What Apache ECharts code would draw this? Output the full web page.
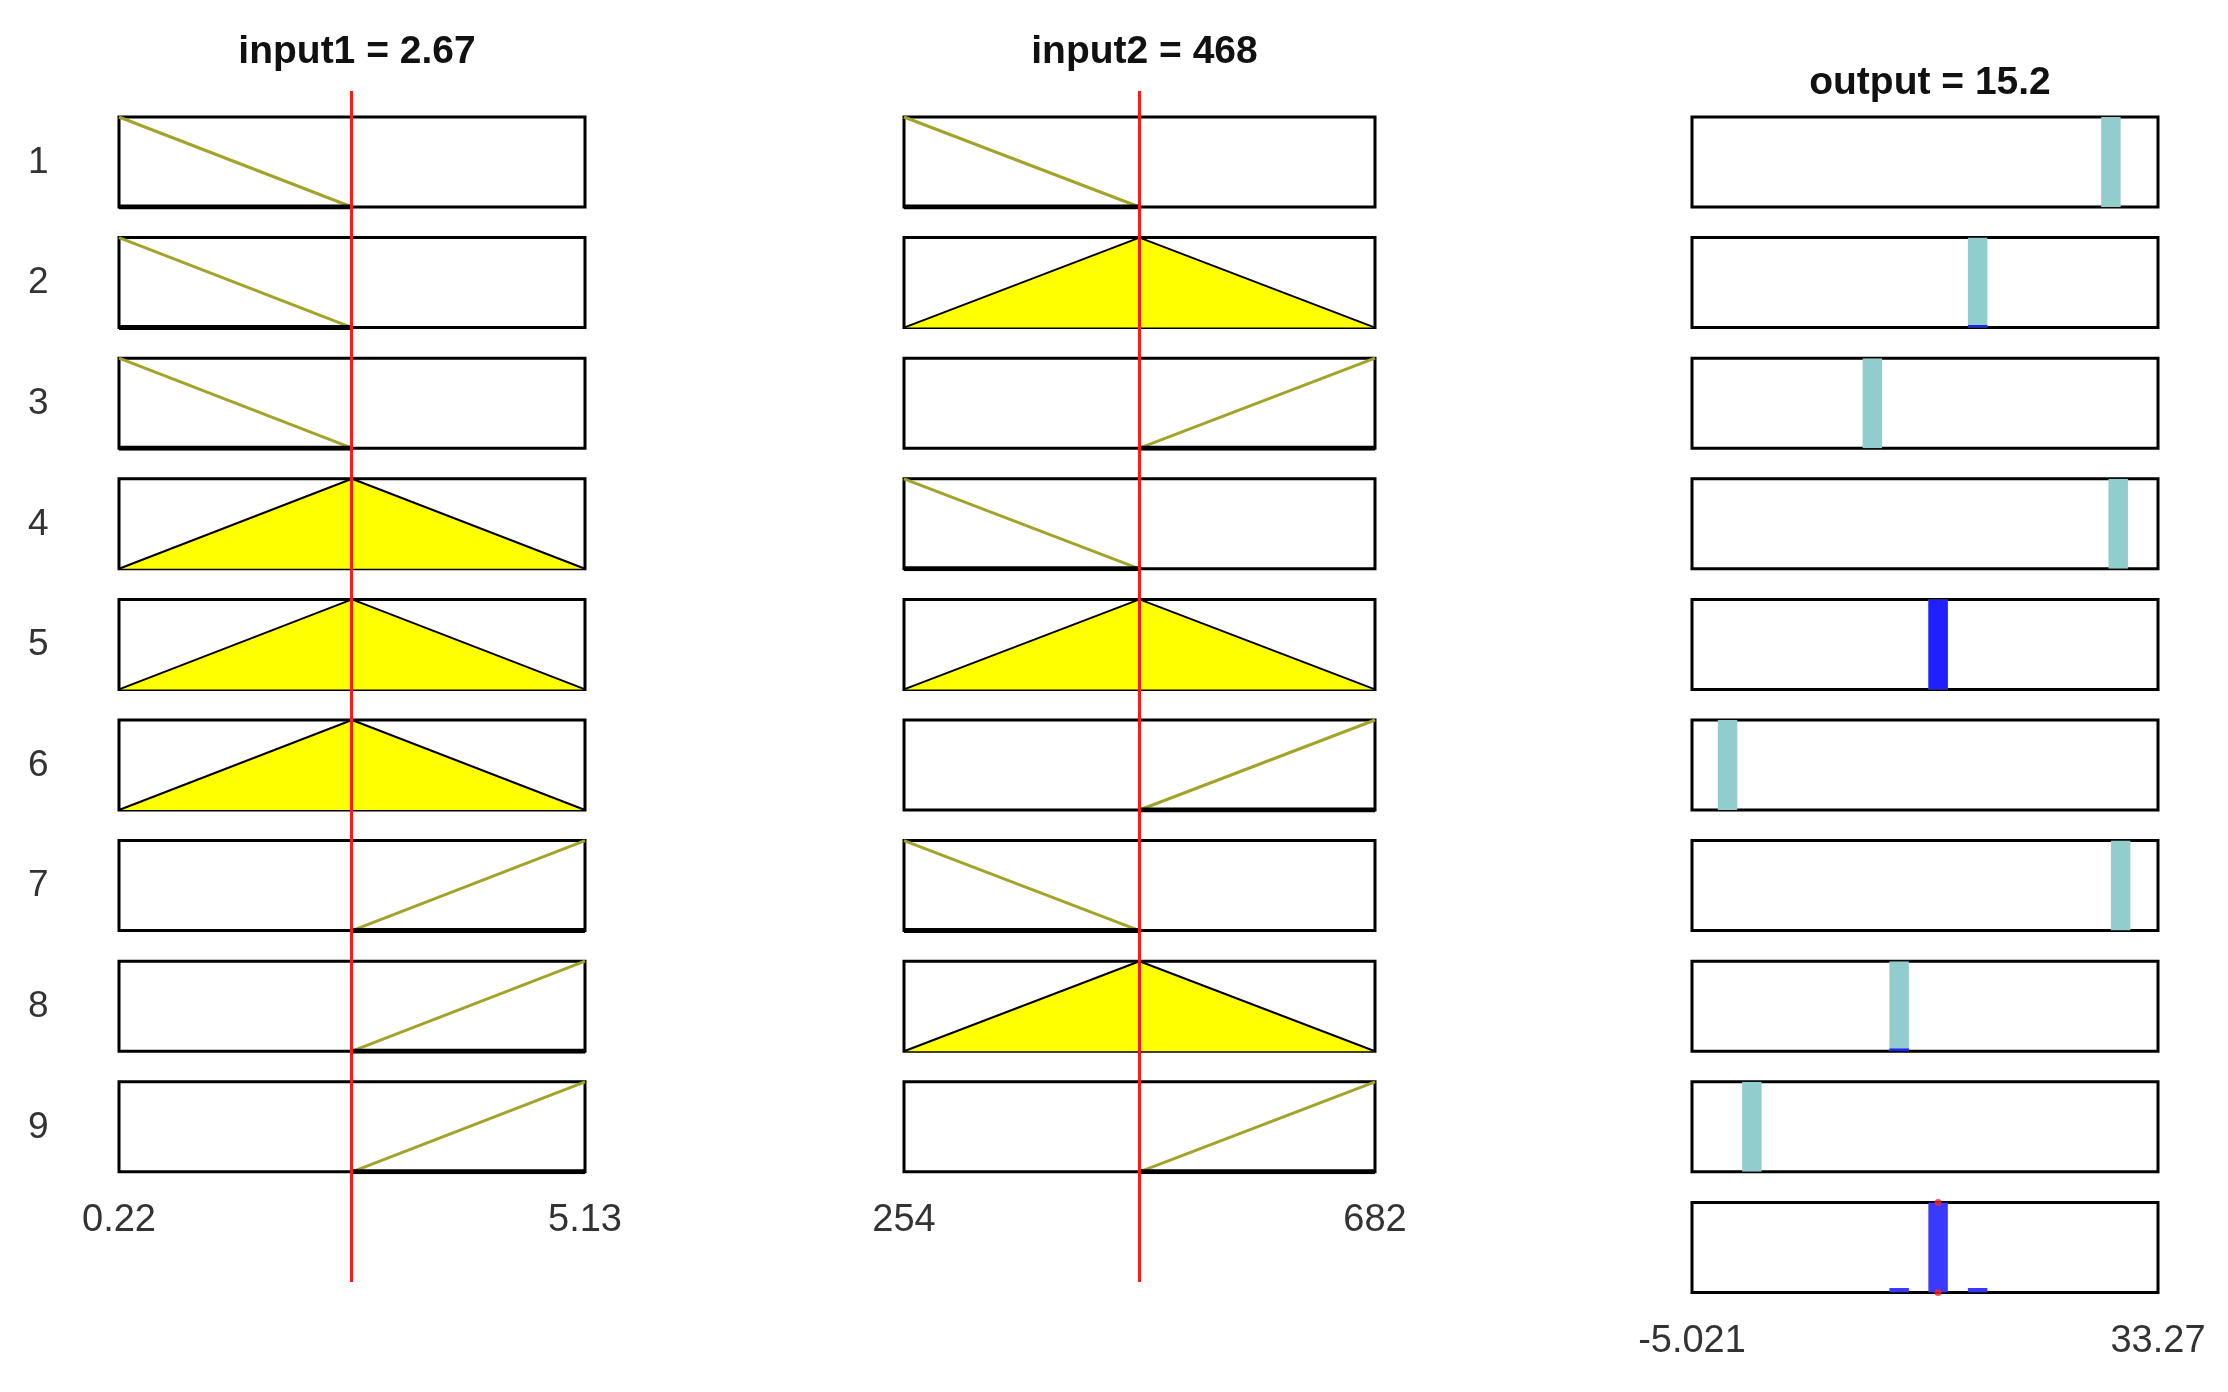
<!DOCTYPE html>
<html>
<head>
<meta charset="UTF-8">
<script src="https://cdn.jsdelivr.net/npm/echarts/dist/echarts.min.js"></script>
<style>
  html, body { margin: 0; background: #fff; }
  #chart { width: 2228px; height: 1392px; }
</style>
</head>
<body>
<div id="chart"></div>
<script>
// ranges and crisp inputs
const in1Range = [0.22, 5.13];
const in2Range = [254, 682];
const outRange = [-5.021, 33.27];
const in1Value = 2.67;
const in2Value = 468;
const outValue = 15.2;
const titles = ['input1 = 2.67', 'input2 = 468', 'output = 15.2'];
const in1Ticks = ['0.22', '5.13'];
const in2Ticks = ['254', '682'];
const outTicks = ['-5.021', '33.27'];

// membership function shapes
const in1MFs = {
  low: [[0.22, 1], [2.675, 0]],
  mid: [[0.22, 0], [2.675, 1], [5.13, 0]],
  high: [[2.675, 0], [5.13, 1]]
};
const in2MFs = {
  low: [[254, 1], [468, 0]],
  mid: [[254, 0], [468, 1], [682, 0]],
  high: [[468, 0], [682, 1]]
};

// rules
const ruleIn1 = ['low', 'low', 'low', 'mid', 'mid', 'mid', 'high', 'high', 'high'];
const ruleIn2 = ['low', 'mid', 'high', 'low', 'mid', 'high', 'low', 'mid', 'high'];
const ruleOut = [29.4, 18.45, 9.8, 30.0, 15.2, -2.1, 30.2, 12.0, -0.1];
const ruleFire = [0, 0.03, 0, 0, 1, 0, 0, 0.03, 0];
const aggBumps = [[12.0, 0.05], [15.2, 1], [18.45, 0.05]];

const barW = 1.6;
const rowTop = 117, rowStep = 120.6, rowH = 90;
const cols = [
  { left: 119, width: 466, range: in1Range },
  { left: 904, width: 471, range: in2Range },
  { left: 1692, width: 466, range: outRange }
];

const chart = echarts.init(document.getElementById('chart'));
const grids = [], xAxes = [], yAxes = [], series = [], graphics = [];

function addGrid(col, top, height, show, ticks) {
  const c = cols[col];
  grids.push({ left: c.left, width: c.width, top: top, height: height,
    show: show, borderColor: '#000', borderWidth: 3, backgroundColor: 'transparent' });
  const idx = grids.length - 1;
  xAxes.push({
    gridIndex: idx, type: 'value', min: c.range[0], max: c.range[1],
    axisLine: { show: false }, axisTick: { show: false }, splitLine: { show: false },
    axisLabel: ticks ? {
      show: true, customValues: c.range, margin: 30, fontSize: 38, color: '#333',
      fontFamily: 'Liberation Sans', showMinLabel: true, showMaxLabel: true,
      formatter: v => (v === c.range[0] ? ticks[0] : ticks[1])
    } : { show: false }
  });
  yAxes.push({ gridIndex: idx, type: 'value', min: 0, max: 1, show: false });
  return idx;
}

function rect(c, h) {
  return [[c - barW / 2, 0], [c - barW / 2, h], [c + barW / 2, h], [c + barW / 2, 0]];
}

function addMF(idx, pts, value, range) {
  if (pts.length === 3) {
    series.push({ type: 'line', xAxisIndex: idx, yAxisIndex: idx, data: pts, symbol: 'none',
      lineStyle: { color: '#000', width: 2 }, areaStyle: { color: '#ffff00', opacity: 1, origin: 'start' } });
  } else {
    series.push({ type: 'line', xAxisIndex: idx, yAxisIndex: idx, data: pts, symbol: 'none',
      lineStyle: { color: '#a3a32a', width: 3 } });
    const seg = pts[0][1] === 1 ? [[range[0], 0], [value, 0]] : [[value, 0], [range[1], 0]];
    series.push({ type: 'line', xAxisIndex: idx, yAxisIndex: idx, data: seg, symbol: 'none',
      lineStyle: { color: '#000', width: 5 } });
  }
}

for (let i = 0; i < 9; i++) {
  const top = rowTop + i * rowStep;
  const last = i === 8;
  const a = addGrid(0, top, rowH, true, last ? in1Ticks : null);
  addMF(a, in1MFs[ruleIn1[i]], in1Value, in1Range);
  const b = addGrid(1, top, rowH, true, last ? in2Ticks : null);
  addMF(b, in2MFs[ruleIn2[i]], in2Value, in2Range);
  const o = addGrid(2, top, rowH, true, null);
  series.push({ type: 'line', xAxisIndex: o, yAxisIndex: o, data: rect(ruleOut[i], 1), symbol: 'none',
    lineStyle: { width: 0 }, areaStyle: { color: '#92cdcd', opacity: 1, origin: 'start' } });
  if (ruleFire[i] > 0) {
    series.push({ type: 'line', xAxisIndex: o, yAxisIndex: o, data: rect(ruleOut[i], ruleFire[i]), symbol: 'none',
      lineStyle: { width: 0 }, areaStyle: { color: '#1f1fff', opacity: 1, origin: 'start' } });
  }
  graphics.push({ type: 'text', left: 28, top: top + rowH / 2 - 18,
    style: { text: String(i + 1), fontSize: 37, fill: '#333', fontFamily: 'Liberation Sans' } });
}

// aggregated output
const agg = addGrid(2, rowTop + 9 * rowStep, rowH, true, outTicks);
aggBumps.forEach(([c, h]) => {
  series.push({ type: 'line', xAxisIndex: agg, yAxisIndex: agg, data: rect(c, h), symbol: 'none',
    lineStyle: { width: 0 }, areaStyle: { color: '#3a3aff', opacity: 1, origin: 'start' } });
});
series.push({ type: 'scatter', xAxisIndex: agg, yAxisIndex: agg, data: [[outValue, 0], [outValue, 1]],
  symbolSize: 7, itemStyle: { color: '#ff2020' }, z: 5 });

// red input lines
[[0, in1Value], [1, in2Value]].forEach(([col, v]) => {
  const idx = addGrid(col, 91, 1191, false, null);
  series.push({ type: 'line', xAxisIndex: idx, yAxisIndex: idx, data: [[v, 0], [v, 1]], symbol: 'none',
    lineStyle: { color: '#ff1a1a', width: 3 }, z: 10 });
});

const titleTops = [28, 28, 59];
chart.setOption({
  animation: false,
  title: titles.map((t, k) => ({
    text: t, left: cols[k].left + cols[k].width / 2, top: titleTops[k], textAlign: 'center',
    textStyle: { fontSize: 39, fontWeight: 'bold', color: '#111', fontFamily: 'Liberation Sans' }
  })),
  grid: grids, xAxis: xAxes, yAxis: yAxes, series: series, graphic: graphics
});
</script>
</body>
</html>
